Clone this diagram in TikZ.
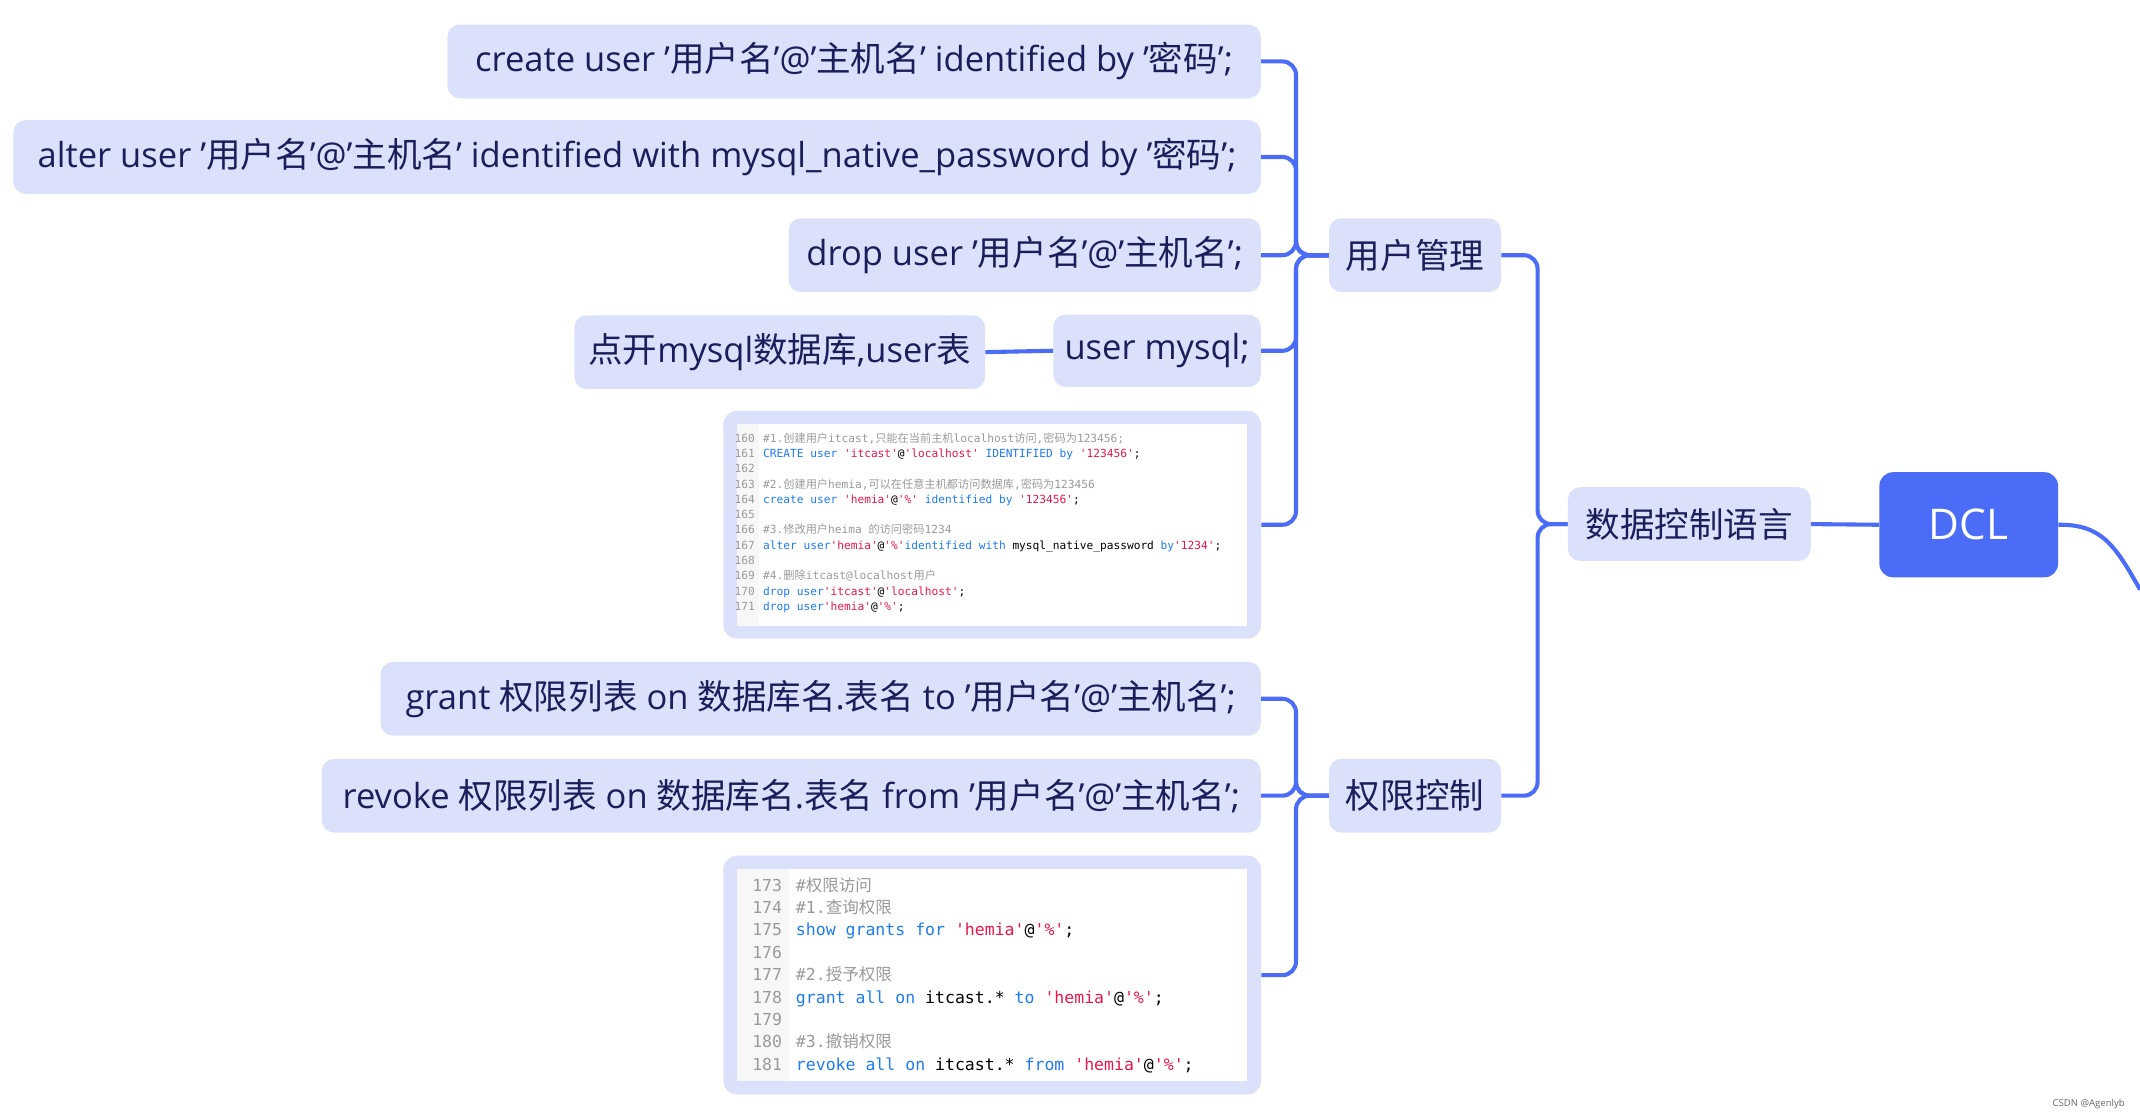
\documentclass[tikz,border=0pt]{standalone}
\usepackage{fontspec}
\setmainfont{Open Sans}
\setmonofont{DejaVu Sans Mono}
\newfontfamily\cjk{Noto Sans CJK SC}
\begin{document}
\definecolor{lav}{HTML}{DCE1FB}
\definecolor{navy}{HTML}{1A1F5C}
\definecolor{conn}{HTML}{4A6CF7}
\definecolor{kwc}{HTML}{1E7BF0}
\definecolor{stc}{HTML}{E8174A}
\definecolor{cmc}{HTML}{9A9A9A}
\newcommand{\kw}[1]{\textcolor{kwc}{#1}}
\newcommand{\st}[1]{\textcolor{stc}{#1}}
\newcommand{\cm}[1]{\textcolor{cmc}{#1}}
\newcommand{\zh}[1]{{\cjk #1}}
\begin{tikzpicture}[x=1pt,y=-1pt,
  box/.style={fill=lav,rounded corners=9pt,minimum height=54pt,inner sep=0pt,text=navy,font=\fontsize{25.3}{28}\selectfont,anchor=east},
  cn/.style={draw=conn,line width=3pt,rounded corners=10pt},
  l1/.style={anchor=base west,inner sep=0pt,font=\ttfamily\fontsize{8.2}{9}\selectfont},
  l2/.style={anchor=base west,inner sep=0pt,font=\ttfamily\fontsize{12.1}{13}\selectfont},
  n1/.style={anchor=base west,inner sep=0pt,text=cmc,font=\ttfamily\fontsize{8.2}{9}\selectfont},
  n2/.style={anchor=base west,inner sep=0pt,text=cmc,font=\ttfamily\fontsize{12.1}{13}\selectfont}]
\useasboundingbox (0,0) rectangle (1568,820);
\fill[white] (0,0) rectangle (1568,820);
% nodes
\node[box,minimum width=596pt] (c1) at (924,45) {create user '\zh{用户名}'@'\zh{主机名}' identified by '\zh{密码}';};
\node[box,minimum width=914pt] (c2) at (924,115) {alter user '\zh{用户名}'@'\zh{主机名}' identified with mysql\_native\_password by '\zh{密码}';};
\node[box,minimum width=346pt] (c3) at (924,187) {drop user '\zh{用户名}'@'\zh{主机名}';};
\node[box,minimum width=152pt,minimum height=53pt] (c4) at (924,257) {user mysql;};
\node[box,minimum width=301pt] (c5) at (722,258) {\zh{点开}mysql\zh{数据库},user\zh{表}};
\node[box,minimum width=645pt] (g1) at (924,512) {grant \zh{权限列表} on \zh{数据库名}.\zh{表名} to '\zh{用户名}'@'\zh{主机名}';};
\node[box,minimum width=688pt] (g2) at (924,583) {revoke \zh{权限列表} on \zh{数据库名}.\zh{表名} from '\zh{用户名}'@'\zh{主机名}';};
\node[box,minimum width=126pt] (um) at (1100,187) {\zh{用户管理}};
\node[box,minimum width=126pt] (qx) at (1100,583) {\zh{权限控制}};
\node[box,minimum width=178pt] (sj) at (1327,384) {\zh{数据控制语言}};
\node[fill=conn,rounded corners=10pt,minimum width=131pt,minimum height=77pt,inner sep=0pt,text=white,font=\fontsize{31}{34}\selectfont] (dcl) at (1442.5,384.5) {DCL};
% code box 1
\node[fill=lav,rounded corners=10pt,minimum width=394pt,minimum height=167pt,inner sep=0pt] (k1) at (727,384.5) {};
\fill[white] (540,311) rectangle (914,459);
\fill[black!3] (540,311) rectangle (556,459);
\foreach \n [count=\i] in {160,...,171} \node[n1] at (538,{321+11.2*(\i-1)+3}) {\n};
\node[l1] at (559,324) {\cm{\#1.\zh{创建用户}itcast,\zh{只能在当前主机}localhost\zh{访问},\zh{密码为}123456;}};
\node[l1] at (559,335.2) {\kw{CREATE user} \st{'itcast'}@\st{'localhost'} \kw{IDENTIFIED by} \st{'123456'};};
\node[l1] at (559,357.6) {\cm{\#2.\zh{创建用户}hemia,\zh{可以在任意主机都访问数据库},\zh{密码为}123456}};
\node[l1] at (559,368.8) {\kw{create user} \st{'hemia'}@\st{'\%'} \kw{identified by} \st{'123456'};};
\node[l1] at (559,391.2) {\cm{\#3.\zh{修改用户}heima \zh{的访问密码}1234}};
\node[l1] at (559,402.4) {\kw{alter user}\st{'hemia'}@\st{'\%'}\kw{identified with} mysql\_native\_password \kw{by}\st{'1234'};};
\node[l1] at (559,424.8) {\cm{\#4.\zh{删除}itcast@localhost\zh{用户}}};
\node[l1] at (559,436) {\kw{drop user}\st{'itcast'}@\st{'localhost'};};
\node[l1] at (559,447.2) {\kw{drop user}\st{'hemia'}@\st{'\%'};};
% code box 2
\node[fill=lav,rounded corners=10pt,minimum width=394pt,minimum height=175pt,inner sep=0pt] (k2) at (727,714.5) {};
\fill[white] (540,637) rectangle (914,792);
\fill[black!3] (540,637) rectangle (578,792);
\foreach \n [count=\i] in {173,...,181} \node[n2] at (551,{653+16.4*(\i-1)}) {\n};
\node[l2] at (583,653) {\cm{\#\zh{权限访问}}};
\node[l2] at (583,669.4) {\cm{\#1.\zh{查询权限}}};
\node[l2] at (583,685.8) {\kw{show grants for} \st{'hemia'}@\st{'\%'};};
\node[l2] at (583,718.6) {\cm{\#2.\zh{授予权限}}};
\node[l2] at (583,735) {\kw{grant all on} itcast.* \kw{to} \st{'hemia'}@\st{'\%'};};
\node[l2] at (583,767.8) {\cm{\#3.\zh{撤销权限}}};
\node[l2] at (583,784.2) {\kw{revoke all on} itcast.* \kw{from} \st{'hemia'}@\st{'\%'};};
% connectors
\foreach \c in {c1,c2,c3,c4} \draw[cn] (um.west) -- ++(-24,0) |- (\c.east);
\draw[cn] (um.west) -- ++(-24,0) |- (k1.east);
\draw[cn] (c4.west) -- (c5.east);
\foreach \c in {g1,g2,k2} \draw[cn] (qx.west) -- ++(-24,0) |- (\c.east);
\draw[cn] (sj.west) -- ++(-22,0) |- (um.east);
\draw[cn] (sj.west) -- ++(-22,0) |- (qx.east);
\draw[cn] (dcl.west) -- (sj.east);
\coordinate (edge) at (1568,432);
\draw[draw=conn,line width=3pt] (dcl.east) .. controls (1540,384) and (1550,400) .. (edge);
\node[anchor=east,text=black!60,font=\fontsize{7}{8}\selectfont,inner sep=0pt] (wm) at (1557,809) {CSDN @Agenlyb};
\end{tikzpicture}
\end{document}
